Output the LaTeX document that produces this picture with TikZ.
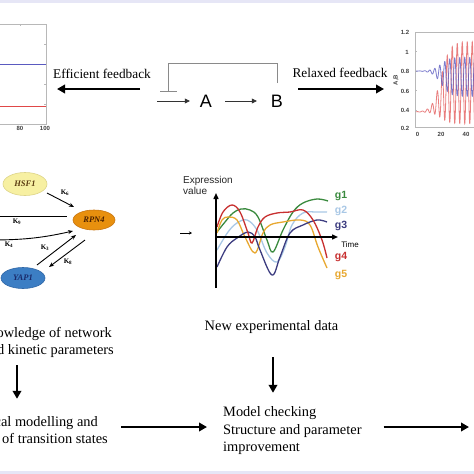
\documentclass[tikz,border=0pt]{standalone}
\usepackage{fontspec}
\setmainfont{Liberation Serif}
\newfontfamily\sansf{Liberation Sans}
\usetikzlibrary{arrows.meta,shapes.geometric,calc}
\definecolor{lav}{HTML}{E6E6F6}
\definecolor{frame}{HTML}{B8B8B8}
\definecolor{pblue}{HTML}{5A5AC0}
\definecolor{pred}{HTML}{E04848}
\definecolor{hsfF}{HTML}{F7F0A2}
\definecolor{hsfD}{HTML}{DDD488}
\definecolor{hsfT}{HTML}{5A3A10}
\definecolor{rpnF}{HTML}{E8900E}
\definecolor{rpnD}{HTML}{C97610}
\definecolor{rpnT}{HTML}{4A2000}
\definecolor{yapF}{HTML}{3C7EC4}
\definecolor{yapD}{HTML}{2E66A6}
\definecolor{yapT}{HTML}{1A2A6A}
\definecolor{gA}{HTML}{3A8A3E}
\definecolor{gB}{HTML}{A9C8E6}
\definecolor{gC}{HTML}{3C3C80}
\definecolor{gD}{HTML}{C83030}
\definecolor{gE}{HTML}{E8A830}
\definecolor{fbgray}{HTML}{8A8A8A}
\tikzset{
  bigarr/.style={line width=2.5pt,-{Triangle[length=8pt,width=8.5pt]}},
  toplab/.style={font=\fontsize{13.3}{15}\selectfont,inner sep=0pt},
  botlab/.style={font=\fontsize{14.4}{17}\selectfont,inner sep=0pt},
  ticklab/.style={font=\sansf\bfseries\fontsize{6}{7}\selectfont,inner sep=0pt,text=black!75},
  plotframe/.style={draw=frame,line width=0.6pt},
  abfont/.style={font=\sansf\fontsize{18}{20}\selectfont,inner sep=0pt},
  abarr/.style={line width=0.7pt,draw=black!80,-{Triangle[length=5pt,width=5pt]}},
  ell/.style={ellipse,inner sep=0pt,line width=0.6pt,font=\bfseries\itshape\fontsize{8.5}{9}\selectfont},
  netarr/.style={line width=0.9pt,-{Stealth[length=5pt,width=4pt]}},
  klab/.style={font=\bfseries\fontsize{7}{8}\selectfont,inner sep=0pt},
  glab/.style={font=\sansf\bfseries\fontsize{10.5}{12}\selectfont,inner sep=0pt},
  gcurve/.style={line width=1.3pt,smooth,tension=0.6},
  axisarr/.style={line width=1.4pt,-{Triangle[length=6pt,width=5pt]}}
}
\begin{document}
\begin{tikzpicture}[x=1pt,y=-1pt]
\useasboundingbox (0,0) rectangle (474,474);
\clip (0,0) rectangle (474,474);
\fill[white] (0,0) rectangle (474,474);
\fill[lav] (0,0) rectangle (474,3);
\fill[lav] (0,471) rectangle (474,474);

% ---------- left plot ----------
\draw[plotframe] (-2,24) rectangle (46,124);
\foreach \yy in {44,64,84,104} \draw[plotframe] (46,\yy) -- (44,\yy);
\draw[plotframe] (20,24) -- (20,26);
\draw[pblue,line width=0.8pt] (-2,64) -- (46,64);
\draw[pred,line width=0.8pt] (-2,106) -- (46,106);
\node[ticklab] (t80) at (20,128.5) {80};
\node[ticklab] (t100) at (45,128.5) {100};

% ---------- top labels and arrows ----------
\node[toplab,anchor=base] (eff) at (102,78.5) {Efficient feedback};
\coordinate (effS) at (140,89);
\coordinate (effE) at (57,89);
\draw[bigarr] (effS) -- (effE);
\node[toplab,anchor=base] (rel) at (340,77) {Relaxed feedback};
\coordinate (relS) at (298,89);
\coordinate (relE) at (384,89);
\draw[bigarr] (relS) -- (relE);

% ---------- A B network ----------
\node[abfont] (A) at (206,101) {A};
\node[abfont] (B) at (277,101) {B};
\coordinate (inS) at (157,101);
\draw[abarr,shorten >=10pt] (inS) -- (A);
\draw[abarr,shorten <=13pt,shorten >=14pt] (A) -- (B);
\coordinate (fbS) at (277,83);
\coordinate (fbE) at (168,92);
\draw[line width=0.9pt,draw=fbgray,-{Bar[width=17pt,line width=0.9pt]}] (fbS) -- ++(0,-20) -| (fbE);

% ---------- right plot ----------
\draw[plotframe] (476,32) -- (415,32) -- (415,127) -- (476,127);
\foreach \yy in {32,51.5,71,90.5,110,127} \draw[plotframe] (415,\yy) -- (417,\yy);
\node[ticklab] (r12) at (405,32) {1.2};
\node[ticklab] (r10) at (407,52) {1};
\node[ticklab] (r08) at (405,71.5) {0.8};
\node[ticklab] (r06) at (405,91) {0.6};
\node[ticklab] (r04) at (405,110.5) {0.4};
\node[ticklab] (r02) at (405,128) {0.2};
\node[ticklab] (x0) at (417.5,134) {0};
\node[ticklab] (x20) at (441,134) {20};
\node[ticklab] (x40) at (466,134) {40};
\node[ticklab,rotate=90] (ab) at (396,80) {A,B};
\begin{scope}
\clip (415.5,20) rectangle (474,127);
\draw[pred,opacity=0.7,line width=0.8pt] plot[domain=0:47,samples=500]
  ({416+1.25*\x},{32+97.5*(1.2-(0.38+0.30/(1+exp(-(\x-20)/3.5))+0.42/(1+exp(-(\x-20)/3.5))*sin(90*\x)))});
\draw[pblue,opacity=0.8,line width=0.8pt] plot[domain=0:47,samples=500]
  ({416+1.25*\x},{32+97.5*(1.2-(0.8-0.06/(1+exp(-(\x-20)/3.5))-0.2/(1+exp(-(\x-20)/3.5))*sin(90*\x)))});
\end{scope}

% ---------- gene network ----------
\node[ell,fill=hsfF,draw=hsfD,text=hsfT,minimum width=44pt,minimum height=23pt] (hsf) at (25,184) {HSF1};
\node[ell,fill=rpnF,draw=rpnD,text=rpnT,minimum width=42pt,minimum height=20pt] (rpn) at (94,220) {RPN4};
\node[ell,fill=yapF,draw=yapD,text=yapT,minimum width=44pt,minimum height=21pt] (yap) at (23,278) {YAP1};
\draw[netarr] ($(hsf)+(22,9)$) -- ($(rpn)+(-20,-13)$);
\coordinate (lk9) at (-5,216);
\draw[line width=0.9pt] (lk9) -- ($(rpn)+(-27,-4)$);
\coordinate (lk4) at (-5,240);
\draw[netarr] (lk4) to[bend right=6] ($(rpn)+(-21,11)$);
\draw[netarr] ($(yap)+(14,-13)$) -- ($(rpn)+(-18,15)$);
\draw[netarr] ($(rpn)+(-9,20)$) -- ($(yap)+(26,-11)$);
\node[klab] (k6) at (65,193) {K\textsubscript{6}};
\node[klab] (k9) at (17,222) {K\textsubscript{9}};
\node[klab] (k4) at (9,245) {K\textsubscript{4}};
\node[klab] (k3) at (45,248) {K\textsubscript{3}};
\node[klab] (k8) at (68,262) {K\textsubscript{8}};

% ---------- expression plot ----------
\node[font=\sansf\fontsize{10}{11}\selectfont,inner sep=0pt,anchor=base west,text=black!85] (ex1) at (183,183) {Expression};
\node[font=\sansf\fontsize{10}{11}\selectfont,inner sep=0pt,anchor=base west,text=black!85] (ex2) at (183,194.5) {value};
\coordinate (smS) at (180,233);
\coordinate (smE) at (192,233);
\draw[line width=0.6pt,-{Stealth[length=3pt,width=3pt]}] (smS) -- (smE);
\draw[gcurve,gA] plot coordinates {(217,232) (225,222) (233,213) (241,209) (250,210) (258,217) (267,240) (273,252) (283,230) (293,212) (303,203) (317,199) (328,201)};
\draw[gcurve,gB] plot coordinates {(217,250) (228,232) (237,223) (247,220) (257,230) (267,253) (277,262) (285,247) (292,225) (303,213) (317,212) (327,212)};
\draw[gcurve,gE] plot coordinates {(217,233) (222,220) (228,217) (237,220) (245,237) (255,253) (263,233) (270,225) (283,222) (300,220) (310,225) (318,247) (327,268)};
\draw[gcurve,gC] plot coordinates {(217,267) (227,247) (237,238) (248,232) (255,237) (260,250) (272,275) (280,257) (290,233) (303,225) (317,220) (327,222)};
\draw[gcurve,gD] plot coordinates {(217,227) (223,212) (232,205) (240,212) (248,233) (252,243) (258,227) (265,217) (277,213) (290,212) (303,210) (313,220) (322,240) (327,258)};
\coordinate (vaS) at (216,288);
\coordinate (vaE) at (216,193);
\draw[axisarr] (vaS) -- (vaE);
\coordinate (haS) at (216,237);
\coordinate (haE) at (338,237);
\draw[axisarr] (haS) -- (haE);
\node[font=\sansf\fontsize{8}{9}\selectfont,inner sep=0pt] (time) at (350,245) {Time};
\node[glab,text=gA] (g1) at (341,196) {g1};
\node[glab,text=gB] (g2) at (341,211) {g2};
\node[glab,text=gC] (g3) at (341,226) {g3};
\node[glab,text=gD] (g4) at (341,257) {g4};
\node[glab,text=gE] (g5) at (341,275) {g5};

% ---------- bottom flow ----------
\node[botlab,anchor=base east] (know1) at (112,337) {Knowledge of network};
\node[botlab,anchor=base east] (know2) at (114,354) {and kinetic parameters};
\node[botlab,anchor=base east] (mm1) at (98,426) {Mathematical modelling and};
\node[botlab,anchor=base east] (mm2) at (108,443) {analysis of transition states};
\node[botlab,anchor=base] (new) at (271.5,330) {New experimental data};
\node[botlab,anchor=base west] (mc1) at (223,416) {Model checking};
\node[botlab,anchor=base west] (mc2) at (223,434) {Structure and parameter};
\node[botlab,anchor=base west] (mc3) at (223,451) {improvement};
\coordinate (kx) at (17,0);
\draw[bigarr,shorten <=8pt,shorten >=17pt] (kx |- know2.south) -- (kx |- mm1.north);
\coordinate (nx) at (273,0);
\draw[bigarr,shorten <=24pt,shorten >=13pt] (nx |- new.south) -- (nx |- mc1.north);
\coordinate (by) at (0,427);
\draw[bigarr,shorten <=13pt,shorten >=16pt] (mm2.east |- by) -- (mc2.west |- by);
\coordinate (outE) at (469,427);
\draw[bigarr,shorten <=22pt] (mc2.east |- by) -- (outE);
\end{tikzpicture}
\end{document}
